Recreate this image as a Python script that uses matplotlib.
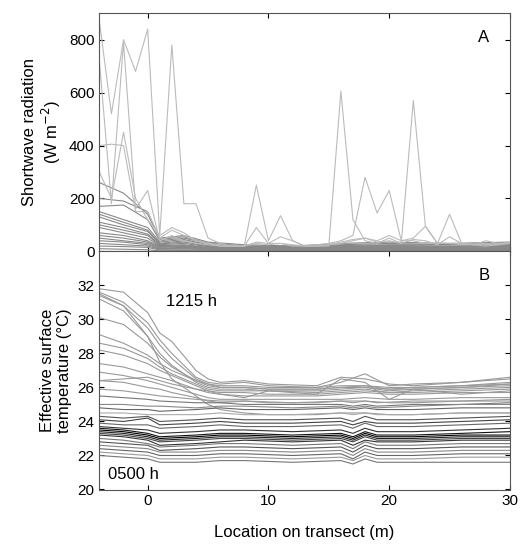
import matplotlib.pyplot as plt

plt.rcParams['font.family'] = ['Liberation Sans', 'DejaVu Sans']

# Panel A: shortwave radiation (W m-2)
xs = list(range(-4, 31))
spike_lines = [
    [870, 520, 800, 680, 840, 60, 780, 180, 180, 50, 30, 20, 20, 250, 40, 135, 40, 20, 20, 20,
     605, 120, 40, 30, 50, 30, 570, 95, 30, 30, 25, 25, 40, 30, 30],
    [720, 180, 790, 160, 230, 40, 60, 40, 30, 25, 20, 20, 20, 30, 25, 30, 20, 20, 20, 25,
     30, 40, 50, 40, 60, 40, 40, 30, 30, 140, 30, 25, 30, 25, 35],
    [400, 405, 400, 150, 150, 50, 80, 60, 40, 30, 25, 20, 20, 35, 30, 30, 25, 20, 25, 30,
     40, 60, 280, 145, 230, 40, 50, 95, 30, 30, 30, 25, 25, 30, 30],
    [300, 200, 450, 200, 120, 60, 90, 70, 40, 30, 20, 20, 20, 90, 30, 55, 40, 20, 20, 25,
     35, 45, 50, 35, 40, 30, 45, 40, 25, 55, 30, 25, 20, 25, 30],
]
low_x = [-4, -2, 0, 1, 3, 5, 8, 12, 16, 20, 25, 30]
low_lines = [
    [260, 220, 140, 50, 60, 35, 25, 20, 30, 35, 30, 35],
    [200, 190, 150, 45, 55, 30, 20, 20, 25, 30, 25, 30],
    [170, 175, 120, 40, 50, 30, 20, 18, 22, 25, 25, 28],
    [150, 120, 90, 35, 45, 25, 18, 15, 20, 22, 20, 25],
    [140, 110, 80, 30, 40, 22, 15, 15, 18, 20, 18, 22],
    [130, 100, 75, 28, 35, 20, 15, 12, 16, 18, 16, 20],
    [110, 90, 65, 25, 30, 18, 12, 12, 14, 16, 14, 18],
    [100, 80, 60, 22, 25, 15, 12, 10, 12, 14, 12, 15],
    [90, 70, 50, 20, 22, 14, 10, 10, 12, 12, 10, 12],
    [70, 60, 40, 18, 20, 12, 10, 8, 10, 10, 10, 10],
    [60, 50, 35, 15, 18, 10, 8, 8, 8, 10, 8, 10],
    [50, 40, 30, 12, 15, 10, 8, 6, 8, 8, 8, 8],
    [40, 35, 25, 10, 12, 8, 6, 6, 6, 6, 6, 6],
    [30, 25, 20, 8, 10, 6, 5, 5, 5, 5, 5, 5],
    [20, 18, 15, 5, 6, 4, 3, 3, 3, 3, 3, 3],
    [10, 8, 6, 2, 3, 2, 2, 2, 2, 2, 2, 2],
]

# Panel B: effective surface temperature (deg C)
hx = [-4, -2, 0, 1, 2, 4, 5, 6, 8, 10, 14, 16, 18, 20, 22, 26, 30]
hot_lines = [
    [31.8, 31.6, 30.4, 29.2, 28.7, 27.0, 26.5, 26.3, 26.4, 26.2, 26.1, 26.6, 26.5, 26.2, 26.1, 26.3, 26.6],
    [31.6, 31.0, 29.8, 28.8, 28.0, 26.6, 26.3, 26.2, 26.3, 26.1, 26.0, 26.3, 26.8, 26.1, 26.2, 26.3, 26.5],
    [31.4, 30.8, 29.5, 28.5, 27.7, 26.5, 26.2, 26.0, 26.0, 25.9, 25.9, 26.0, 26.1, 25.9, 26.0, 26.1, 26.3],
    [31.2, 30.5, 29.0, 28.0, 27.3, 26.3, 26.0, 25.9, 25.9, 25.8, 25.8, 25.9, 26.0, 25.8, 25.9, 26.0, 26.2],
    [31.5, 30.8, 29.0, 27.5, 26.5, 25.5, 25.0, 24.7, 24.5, 24.4, 24.4, 24.5, 24.5, 24.4, 24.4, 24.5, 24.5],
    [30.1, 29.7, 28.6, 27.8, 27.2, 26.4, 26.1, 26.0, 26.0, 25.9, 25.9, 26.0, 26.0, 25.9, 25.9, 26.0, 26.1],
    [29.1, 28.6, 27.9, 27.4, 27.0, 26.4, 26.2, 26.1, 26.1, 26.0, 26.0, 26.1, 26.1, 26.0, 26.0, 26.1, 26.2],
    [28.6, 28.3, 27.7, 27.2, 26.8, 26.2, 25.9, 25.8, 25.8, 25.8, 25.7, 25.8, 25.9, 25.7, 25.8, 25.9, 26.0],
    [28.2, 27.9, 27.4, 27.0, 26.7, 26.1, 25.8, 25.7, 25.7, 25.6, 25.6, 25.7, 25.8, 25.7, 25.7, 25.8, 25.9],
    [27.4, 27.2, 26.8, 26.6, 26.4, 25.9, 25.7, 25.6, 25.5, 25.5, 25.5, 25.6, 25.7, 25.6, 25.6, 25.7, 25.7],
    [26.9, 26.7, 26.4, 26.2, 26.0, 25.6, 25.4, 25.3, 25.3, 25.3, 25.3, 25.3, 25.4, 25.3, 25.3, 25.4, 25.4],
    [26.4, 26.3, 26.0, 25.9, 25.7, 25.4, 25.2, 25.1, 25.2, 25.1, 25.1, 25.2, 25.2, 25.1, 25.1, 25.2, 25.2],
    [26.4, 26.5, 26.6, 26.4, 26.2, 25.9, 25.8, 25.6, 25.4, 25.8, 25.6, 26.5, 26.3, 25.3, 25.9, 25.6, 25.8],
]
fx = [-4, -2, 0, 1, 4, 6, 8, 12, 16, 17, 18, 19, 22, 26, 30]
flat_lines = [
    [25.9, 25.8, 25.6, 25.5, 25.3, 25.2, 25.2, 25.1, 25.2, 25.1, 25.2, 25.1, 25.2, 25.2, 25.3],
    [25.5, 25.4, 25.3, 25.2, 25.1, 25.1, 25.0, 25.0, 25.0, 24.9, 25.0, 24.9, 25.0, 25.0, 25.1],
    [25.0, 25.0, 24.9, 24.9, 24.8, 24.9, 24.9, 24.8, 24.9, 24.8, 24.9, 24.8, 24.9, 25.0, 25.0],
    [24.8, 24.7, 24.7, 24.6, 24.7, 24.8, 24.7, 24.7, 24.8, 24.7, 24.8, 24.7, 24.7, 24.8, 24.8],
    [24.5, 24.5, 24.4, 24.4, 24.4, 24.5, 24.4, 24.4, 24.5, 24.4, 24.5, 24.4, 24.4, 24.5, 24.5],
    [24.3, 24.2, 24.3, 24.0, 24.1, 24.2, 24.1, 24.1, 24.2, 24.0, 24.3, 24.1, 24.1, 24.2, 24.3],
    [24.1, 24.0, 24.2, 23.8, 23.9, 24.0, 23.9, 23.9, 24.0, 23.8, 24.0, 23.9, 23.9, 24.0, 24.1],
    [23.9, 23.8, 23.8, 23.6, 23.7, 23.8, 23.7, 23.7, 23.8, 23.6, 23.9, 23.7, 23.7, 23.8, 23.9],
    [23.7, 23.6, 23.5, 23.3, 23.4, 23.5, 23.5, 23.4, 23.5, 23.3, 23.6, 23.4, 23.4, 23.5, 23.6],
    [23.6, 23.5, 23.3, 23.1, 23.2, 23.3, 23.3, 23.2, 23.3, 23.1, 23.4, 23.2, 23.2, 23.3, 23.4],
    [23.5, 23.4, 23.2, 23.0, 23.1, 23.2, 23.2, 23.1, 23.2, 23.0, 23.3, 23.1, 23.1, 23.2, 23.2],
    [23.4, 23.3, 23.1, 22.9, 23.0, 23.1, 23.1, 23.0, 23.1, 22.9, 23.2, 23.0, 23.0, 23.1, 23.1],
    [23.3, 23.2, 23.0, 22.8, 22.9, 23.0, 23.0, 22.9, 23.0, 22.8, 23.1, 22.9, 22.9, 23.0, 23.0],
    [23.2, 23.1, 22.9, 22.6, 22.7, 22.8, 22.9, 22.8, 22.9, 22.6, 22.9, 22.8, 22.8, 22.9, 22.9],
    [23.0, 22.9, 22.7, 22.5, 22.6, 22.7, 22.7, 22.6, 22.7, 22.4, 22.8, 22.6, 22.6, 22.7, 22.7],
    [22.8, 22.7, 22.6, 22.3, 22.4, 22.5, 22.5, 22.4, 22.5, 22.2, 22.6, 22.4, 22.4, 22.5, 22.5],
    [22.6, 22.5, 22.4, 22.2, 22.2, 22.3, 22.3, 22.2, 22.3, 22.0, 22.4, 22.2, 22.2, 22.3, 22.3],
    [22.4, 22.3, 22.2, 22.0, 22.0, 22.1, 22.1, 22.0, 22.1, 21.8, 22.2, 22.0, 22.0, 22.1, 22.1],
    [22.2, 22.1, 22.0, 21.8, 21.8, 21.9, 21.9, 21.8, 21.9, 21.7, 22.0, 21.8, 21.8, 21.9, 21.9],
    [22.0, 21.9, 21.8, 21.6, 21.6, 21.7, 21.7, 21.6, 21.7, 21.5, 21.8, 21.6, 21.6, 21.6, 21.6],
]
flat_colors = ['#999999', '#777777', '#888888', '#666666', '#aaaaaa', '#555555', '#444444',
               '#666666', '#333333', '#111111', '#000000', '#222222', '#444444', '#333333',
               '#777777', '#555555', '#888888', '#666666', '#999999', '#777777']

fig, (ax1, ax2) = plt.subplots(2, 1, figsize=(5.23, 5.5), dpi=100, sharex=True)
fig.subplots_adjust(left=0.19, right=0.975, top=0.976, bottom=0.11, hspace=0)

for ys in low_lines:
    ax1.plot(low_x, ys, color='#888888', lw=0.8)
for ys in spike_lines:
    ax1.plot(xs, ys, color='#bbbbbb', lw=0.8)
ax1.set_ylim(0, 900)
ax1.set_yticks([0, 200, 400, 600, 800])
ax1.set_ylabel('Shortwave radiation\n(W m$^{-2}$)', fontsize=12)
ax1.text(0.95, 0.93, 'A', transform=ax1.transAxes, fontsize=12, ha='right', va='top')

for ys in hot_lines:
    ax2.plot(hx, ys, color='#999999', lw=0.8)
for ys, c in zip(flat_lines, flat_colors):
    ax2.plot(fx, ys, color=c, lw=0.8)
ax2.set_ylim(20, 34)
ax2.set_yticks(range(20, 33, 2))
ax2.set_xlim(-4, 30)
ax2.set_xticks([0, 10, 20, 30])
ax2.set_ylabel('Effective surface\ntemperature (°C)', fontsize=12)
ax2.set_xlabel('Location on transect (m)', fontsize=12, labelpad=12)
ax2.text(0.95, 0.93, 'B', transform=ax2.transAxes, fontsize=12, ha='right', va='top')
ax2.text(1.5, 30.8, '1215 h', fontsize=12)
ax2.text(-3.3, 20.6, '0500 h', fontsize=12)

for ax in (ax1, ax2):
    ax.tick_params(direction='in', top=True, right=True, labelsize=11)
    for s in ax.spines.values():
        s.set_color('#555555')

fig.savefig('out.png')
